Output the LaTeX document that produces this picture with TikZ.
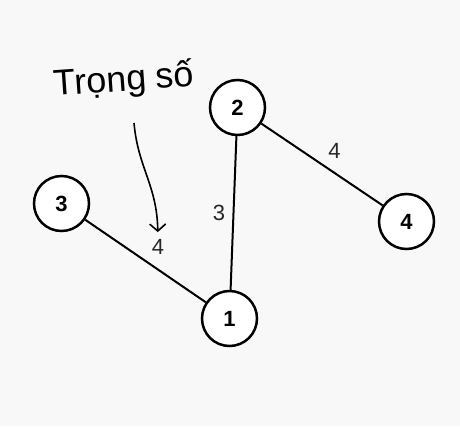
\documentclass[tikz,border=0pt]{standalone}
\usepackage{fontspec}
\setmainfont{Liberation Sans}
\usetikzlibrary{arrows.meta,positioning}
\definecolor{paper}{HTML}{F8F8F8}
\tikzset{
  vertex/.style={circle,draw,line width=2.5pt,fill=white,minimum size=55pt,inner sep=0pt,
    font=\fontsize{22}{26}\selectfont\bfseries},
  edge/.style={line width=2pt},
  weight/.style={font=\fontsize{22}{26}\selectfont,text=black!85},
  note/.style={font=\fontsize{36}{42}\selectfont},
  pointer/.style={line width=1.6pt,-{Straight Barb[length=7pt,width=16pt]},shorten >=3pt},
}

\begin{document}
\begin{tikzpicture}[x=1pt,y=-1pt]
\fill[paper] (0,0) rectangle (460,426);
\useasboundingbox (0,0) rectangle (460,426);
\node[vertex] (v2) at (237.5,107.5) {2};
\node[vertex] (v3) at (61.5,203.5) {3};
\node[vertex] (v4) at (406.5,221.5) {4};
\node[vertex] (v1) at (229.5,318.5) {1};
\draw[edge] (v2)--node[weight,above right=3pt] (w24) {4} (v4);
\draw[edge] (v2)--node[weight,left=4pt] (w21) {3} (v1);
\draw[edge] (v3)--node[weight,above right=3pt] (w31) {4} (v1);
\node[note,rotate=4] (label) at (124,81) {Trọng số};
\coordinate (tail) at (134,123);
\draw[pointer] (tail) .. controls (138,168) and (157,185) .. (w31);
\end{tikzpicture}
\end{document}
